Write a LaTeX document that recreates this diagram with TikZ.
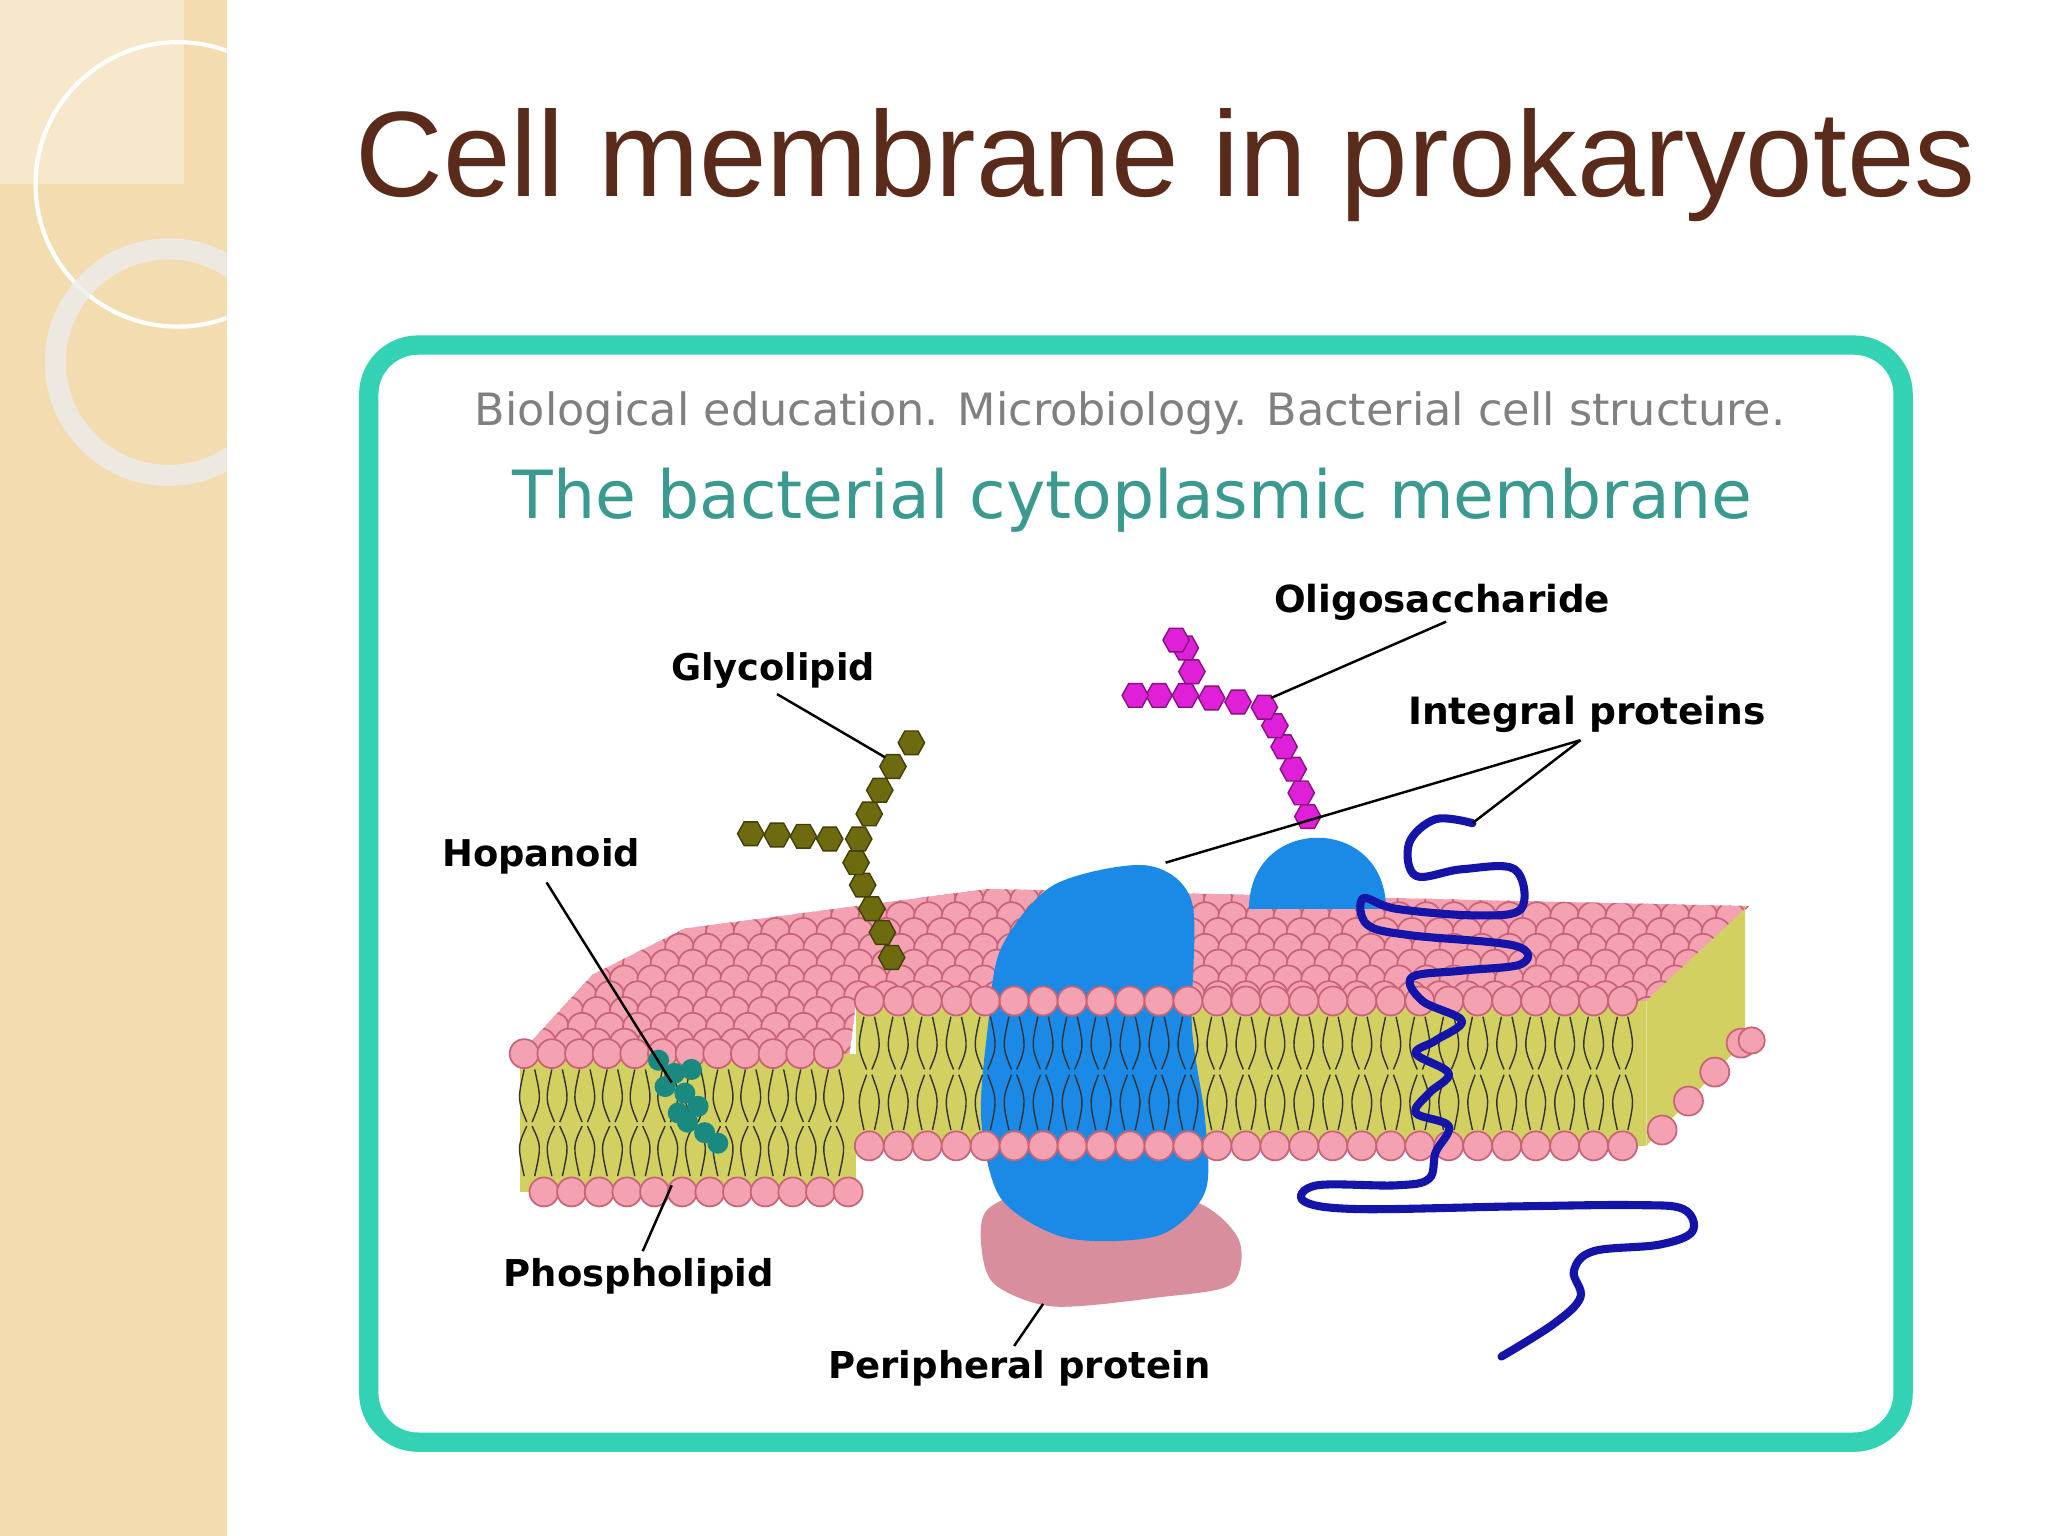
\documentclass[tikz,border=0pt]{standalone}
\usepackage{fontspec}
\usepackage{graphicx}
\setmainfont{DejaVu Sans}
\newfontfamily\titlefont{Liberation Sans}
\begin{document}
\begin{tikzpicture}[x=0.1317mm,y=-0.1317mm]
\definecolor{beige}{HTML}{F3DDB0}
\definecolor{titlec}{HTML}{5A2A1A}
\definecolor{frame}{HTML}{33D2B4}
\definecolor{sub}{HTML}{3A9A90}
\definecolor{pinkf}{HTML}{F4A2B2}
\definecolor{pinkd}{HTML}{C86478}
\definecolor{yel}{HTML}{D2D060}
\definecolor{blu}{HTML}{1A8AE6}
\definecolor{mauve}{HTML}{D88E9C}
\definecolor{navy}{HTML}{1414A8}
\definecolor{olive}{HTML}{6E6A10}
\definecolor{mag}{HTML}{E020D8}
\definecolor{hop}{HTML}{1A8A80}
\tikzset{
 lab/.style={font=\bfseries, inner sep=0pt},
 lead/.style={draw=black, line width=0.7pt},
 bead/.style={fill=pinkf, draw=pinkd, line width=0.5pt},
 tail/.style={draw=black!80, line width=0.4pt},
}
\useasboundingbox (0,0) rectangle (1555,1166);
\fill[white] (0,0) rectangle (1555,1166);
% left strip
\fill[beige] (0,0) rectangle (172,1166);
\begin{scope}
\clip (0,0) rectangle (172,1166);
\fill[white,opacity=0.35] (0,0) rectangle (140,140);
\draw[white,line width=1.2pt] (135,140) circle[radius=108];
\draw[white!85!gray,line width=6pt,opacity=0.8] (128,275) circle[radius=86];
\end{scope}
% title
\node (title) at (885,125) {\titlefont\color{titlec}\resizebox{162mm}{!}{Cell membrane in prokaryotes}};
% frame
\draw[frame,line width=5.5pt,rounded corners=14pt] (280,262) rectangle (1445,1095);
\node (t1) at (858,314) {\color{gray}\resizebox{131mm}{!}{Biological education. Microbiology. Bacterial cell structure.}};
\node (t2) at (860,380) {\color{sub}\resizebox{124mm}{!}{The bacterial cytoplasmic membrane}};
% top surface
\begin{scope}
\clip (395,800) -- (450,740) -- (520,705) -- (750,675) -- (1328,688) -- (1252,760) -- (650,760) -- (645,800) -- cycle;
\foreach \j in {0,...,11}{
 \foreach \i in {0,...,45}{
  \path[bead] ({390+\i*21+mod(\j,2)*10},{672+\j*12}) circle[radius=11];
 }}
\end{scope}
% faces
\fill[yel] (395,800) rectangle (650,905);
\fill[yel] (1250,760) -- (1325,690) -- (1325,790) -- (1250,870) -- cycle;
\foreach \k in {0,...,3}{
 \path[bead] ({1262+\k*20},{858-\k*22}) circle[radius=11];}
\path[bead] (1330,790) circle[radius=10];
% peripheral protein
\fill[mauve] plot[smooth cycle] coordinates {(750,918) (790,905) (900,910) (940,940) (935,975) (880,985) (800,992) (755,975) (745,945)};
\fill[yel] (650,760) rectangle (1250,870);
% big protein
\fill[blu] plot[smooth cycle] coordinates {(760,720) (800,672) (870,657) (905,685) (905,780) (915,850) (915,905) (880,938) (810,940) (760,910) (745,850) (750,780)};
% small dome
\fill[blu] (948,690) .. controls (948,618) and (1052,618) .. (1052,690) -- cycle;
% tails left face
\foreach \x in {402,423,...,645}{
 \draw[tail] ({\x-4},812) .. controls ({\x-9},835) .. ({\x-2},852);
 \draw[tail] ({\x+4},812) .. controls ({\x+9},835) .. ({\x+2},852);
 \draw[tail] ({\x-4},893) .. controls ({\x-9},870) .. ({\x-2},855);
 \draw[tail] ({\x+4},893) .. controls ({\x+9},870) .. ({\x+2},855);
}
% tails main face
\foreach \x in {660,682,...,1245}{
 \draw[tail] ({\x-4},772) .. controls ({\x-9},795) .. ({\x-2},812);
 \draw[tail] ({\x+4},772) .. controls ({\x+9},795) .. ({\x+2},812);
 \draw[tail] ({\x-4},858) .. controls ({\x-9},835) .. ({\x-2},816);
 \draw[tail] ({\x+4},858) .. controls ({\x+9},835) .. ({\x+2},816);
}
% bead rows
\foreach \x in {398,419,...,645}{\path[bead] (\x,800) circle[radius=11]; \path[bead] ({\x+15},905) circle[radius=11];}
\foreach \x in {660,682,...,1245}{\path[bead] (\x,760) circle[radius=11]; \path[bead] (\x,870) circle[radius=11];}
% hopanoid
\foreach \x/\y in {500/805,512/815,525/812,505/825,520/830,530/840,522/852,535/860,545/868,515/845}{
 \fill[hop] (\x,\y) circle[radius=8];}
% glycolipid
\foreach \x/\y in {677/727,670/708,662/690,655/672,650/655,652/637,660/618,668/600,678/582,692/564,630/637,610/635,590/634,570/633}{
 \filldraw[fill=olive,draw=olive!60!black,line width=0.4pt] ({\x+10},\y) -- ({\x+5},{\y+9}) -- ({\x-5},{\y+9}) -- ({\x-10},\y) -- ({\x-5},{\y-9}) -- ({\x+5},{\y-9}) -- cycle;}
% oligosaccharide
\foreach \x/\y in {993/620,988/602,982/584,975/567,968/551,960/537,940/533,920/530,900/528,880/528,862/528,905/510,900/492,893/486}{
 \filldraw[fill=mag,draw=mag!60!black,line width=0.4pt] ({\x+10},\y) -- ({\x+5},{\y+9}) -- ({\x-5},{\y+9}) -- ({\x-10},\y) -- ({\x-5},{\y-9}) -- ({\x+5},{\y-9}) -- cycle;}
% navy coil
\draw[navy,line width=2.3pt,line cap=round,line join=round] plot[smooth,tension=0.6] coordinates {(1118,625) (1090,622) (1070,640) (1075,665) (1110,660) (1150,660) (1155,690) (1120,695) (1060,690) (1035,682) (1038,702) (1070,710) (1150,718) (1155,732) (1110,737) (1072,742) (1080,760) (1110,775) (1090,790) (1075,800) (1100,815) (1085,830) (1075,845) (1100,855) (1090,875) (1085,895) (1060,900) (1000,900) (990,912) (1030,918) (1150,916) (1240,915) (1278,918) (1285,935) (1260,945) (1210,950) (1195,965) (1200,985) (1180,1005) (1140,1030)};
% labels
\node[lab] (oli) at (1095,457) {\resizebox{33.6mm}{!}{Oligosaccharide}};
\node[lab] (gly) at (587,509) {\resizebox{20.4mm}{!}{Glycolipid}};
\node[lab] (int) at (1205,542) {\resizebox{35.8mm}{!}{Integral proteins}};
\node[lab] (hop) at (411,650) {\resizebox{19.8mm}{!}{Hopanoid}};
\node[lab] (pho) at (485,969) {\resizebox{27mm}{!}{Phospholipid}};
\node[lab] (per) at (774,1039) {\resizebox{38.2mm}{!}{Peripheral protein}};
\coordinate (cgly) at (672,575);
\coordinate (coli) at (965,530);
\coordinate (cint) at (1200,562);
\coordinate (cint1) at (885,655);
\coordinate (cint2) at (1118,625);
\coordinate (chop) at (510,822);
\coordinate (cpho) at (510,900);
\coordinate (cper) at (792,990);
\draw[lead] (590,527) -- (cgly);
\draw[lead] (1098,472) -- (coli);
\draw[lead] (cint) -- (cint1);
\draw[lead] (cint) -- (cint2);
\draw[lead] (415,670) -- (chop);
\draw[lead] (488,950) -- (cpho);
\draw[lead] (770,1022) -- (cper);
\end{tikzpicture}
\end{document}
